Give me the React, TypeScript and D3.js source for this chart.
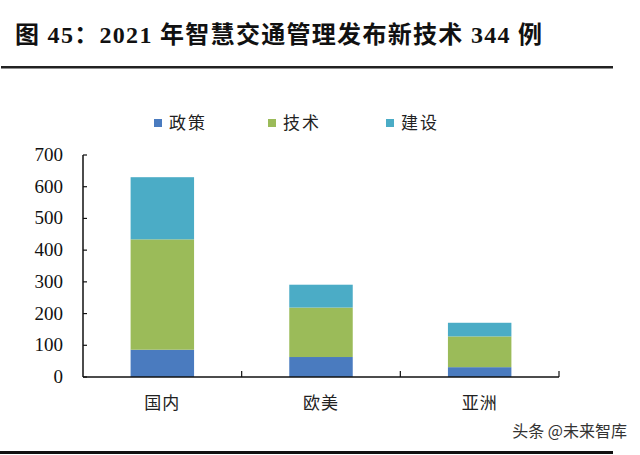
import React from "react";
import * as d3 from "d3";

const categories = ["国内", "欧美", "亚洲"];
const seriesNames = ["政策", "技术", "建设"];
const policy = [86, 63, 31];
const tech = [348, 156, 97];
const build = [196, 72, 43];
const yTicks = [0, 100, 200, 300, 400, 500, 600, 700];
const colors = ["#4a7bbf", "#9bbb59", "#4bacc6"];

export default function App() {
  const W = 640, H = 455;
  const x0 = 83, x1 = 559, yTop = 155, yBot = 377;
  const x = d3.scaleBand<string>().domain(categories).range([x0, x1]).paddingInner(0.6).paddingOuter(0.3);
  const band = d3.scaleBand<string>().domain(categories).range([x0, x1]);
  const y = d3.scaleLinear().domain([0, 700]).range([yBot, yTop]);
  const rows = categories.map((c, i) => ({ cat: c, 政策: policy[i], 技术: tech[i], 建设: build[i] }));
  const stacked = d3.stack<any>().keys(seriesNames)(rows);
  const serif = "'Liberation Serif', 'Times New Roman', serif";
  const cjk = "'Noto Sans CJK SC', sans-serif";
  const legendX = [154, 268, 386];
  return (
    <svg width={W} height={H} style={{ position: "absolute", left: 0, top: 0, background: "#fff" }}>
      <text x={15} y={43} fontFamily={`${serif}, 'Noto Sans CJK SC'`} fontWeight="bold" fontSize={24} letterSpacing={1.3} fill="#111">
        图 45：2021 年智慧交通管理发布新技术 344 例
      </text>
      <rect x={1} y={66} width={612} height={2.5} fill="#222" />
      <rect x={0} y={451} width={613} height={3} fill="#111" />
      {seriesNames.map((s, i) => (
        <g key={s}>
          <rect x={legendX[i]} y={119} width={8} height={8} fill={colors[i]} />
          <text x={legendX[i] + 15} y={129} fontFamily={cjk} fontSize={17} letterSpacing={2} fill="#222">{s}</text>
        </g>
      ))}
      {stacked.map((layer, li) => (
        <g key={li} fill={colors[li]}>
          {layer.map((d, j) => (
            <rect key={j} x={x(categories[j])} width={x.bandwidth()} y={y(d[1])} height={y(d[0]) - y(d[1])} />
          ))}
        </g>
      ))}
      <line x1={x0} x2={x0} y1={yTop} y2={yBot} stroke="#111" strokeWidth={1.5} />
      <line x1={x0} x2={x1} y1={yBot} y2={yBot} stroke="#111" strokeWidth={1.5} />
      {yTicks.map((t) => (
        <g key={t}>
          <line x1={x0} x2={x0 + 4} y1={y(t)} y2={y(t)} stroke="#111" strokeWidth={1.2} />
          <text x={63} y={y(t) + 6} textAnchor="end" fontFamily={serif} fontSize={19} fill="#111">{t}</text>
        </g>
      ))}
      {categories.map((c) => (
        <line key={c} x1={(band(c) as number) + band.bandwidth()} x2={(band(c) as number) + band.bandwidth()} y1={yBot - 6} y2={yBot} stroke="#111" strokeWidth={1.2} />
      ))}
      {categories.map((c) => (
        <text key={c} x={(x(c) as number) + x.bandwidth() / 2} y={409} textAnchor="middle" fontFamily={cjk} fontSize={17} letterSpacing={1} fill="#222">{c}</text>
      ))}
      <text x={627} y={437} textAnchor="end" fontFamily={cjk} fontSize={16} fill="#333">头条 @未来智库</text>
    </svg>
  );
}
